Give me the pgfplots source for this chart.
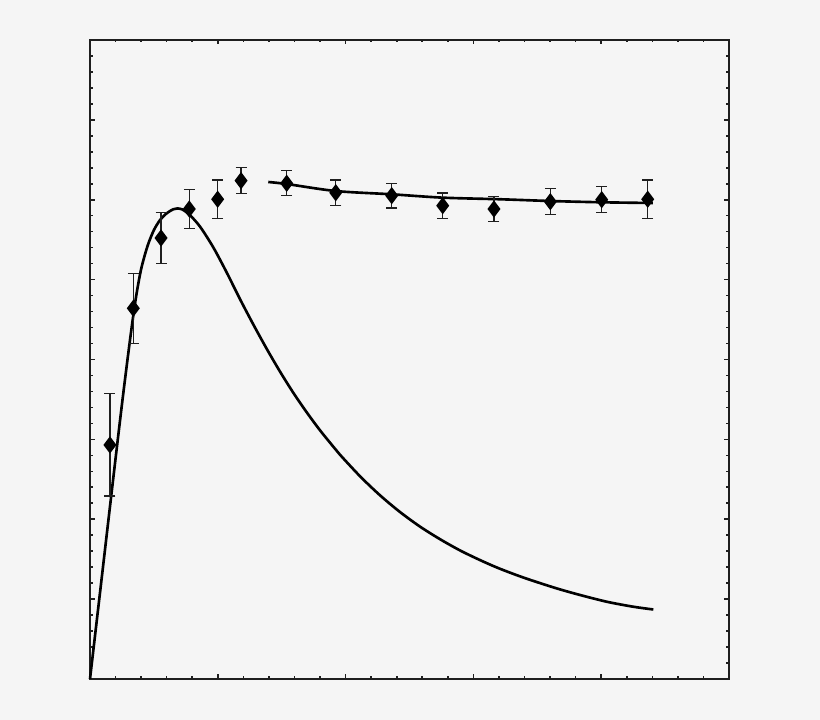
\documentclass[border=0pt]{standalone}
\usepackage{pgfplots}
\pgfplotsset{compat=1.18}
\usetikzlibrary{plotmarks}
\definecolor{bg}{RGB}{245,245,245}
\definecolor{axc}{RGB}{30,30,30}
\begin{document}
\begin{tikzpicture}
\fill[bg] (0,0) rectangle (8.2cm,7.2cm);
\begin{axis}[
  at={(0.90cm,0.41cm)}, anchor=south west,
  width=6.39cm, height=6.39cm, scale only axis,
  xmin=0, xmax=5, ymin=0, ymax=8,
  xtick={0,1,2,3,4,5}, ytick={0,1,2,3,4,5,6,7,8},
  minor x tick num=4, minor y tick num=4,
  xticklabels={}, yticklabels={},
  tick align=inside, tick pos=both,
  major tick length=0.045cm, minor tick length=0.025cm,
  every tick/.style={axc, line width=0.45pt},
  axis line style={axc, line width=0.45pt},
  clip=false,
]
% curve 1
\addplot[black, line width=0.75pt, smooth] coordinates {
(0,0) (0.1,1.38) (0.2,2.76) (0.26,3.57) (0.32,4.33) (0.36,4.78)
(0.40,5.13) (0.45,5.42) (0.50,5.62) (0.55,5.75) (0.60,5.83) (0.65,5.88)
(0.68,5.89) (0.72,5.88) (0.78,5.81) (0.861,5.663)
(0.965,5.403) (1.070,5.088) (1.174,4.755) (1.278,4.438) (1.383,4.133)
(1.487,3.848) (1.591,3.583) (1.696,3.338) (1.800,3.113) (1.904,2.908)
(1.956,2.808) (2.113,2.538) (2.269,2.30) (2.426,2.09) (2.582,1.908)
(2.739,1.75) (2.895,1.61) (3.05,1.49) (3.2,1.385) (3.4,1.265)
(3.65,1.135) (3.85,1.045) (4.05,0.965) (4.25,0.905) (4.408,0.87)
};
% curve 2
\addplot[black, line width=0.75pt, smooth] coordinates {
(1.395,6.222) (1.539,6.197) (1.923,6.109) (2.361,6.068) (2.760,6.026)
(3.208,6.006) (3.602,5.984) (4.004,5.968) (4.405,5.959)
};
% data
\addplot[only marks, mark=diamond*, mark size=0.075cm, black,
  error bars/.cd, y dir=both, y explicit,
  error bar style={axc, line width=0.35pt},
  error mark options={rotate=90, mark size=0.055cm, axc, line width=0.35pt}]
coordinates {
(0.156,2.93) +- (0,0.64)
(0.339,4.641) +- (0,0.44)
(0.556,5.521) +- (0,0.32)
(0.777,5.884) +- (0,0.24)
(0.999,6.006) +- (0,0.24)
(1.182,6.239) +- (0,0.16)
(1.539,6.206) +- (0,0.157)
(1.923,6.088) +- (0,0.16)
(2.361,6.051) +- (0,0.155)
(2.760,5.926) +- (0,0.157)
(3.161,5.884) +- (0,0.158)
(3.602,5.976) +- (0,0.16)
(4.004,6.001) +- (0,0.16)
(4.364,6.006) +- (0,0.24)
};
\end{axis}
\end{tikzpicture}
\end{document}
